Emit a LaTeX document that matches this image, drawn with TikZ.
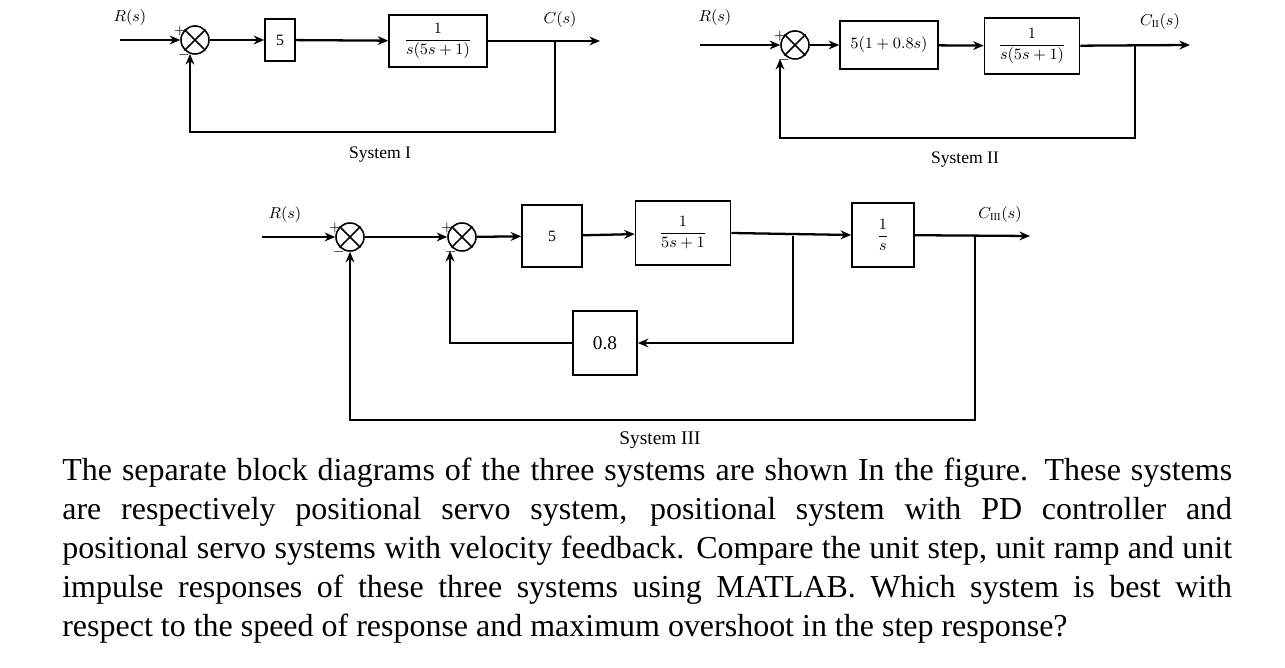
\documentclass[tikz,border=0pt]{standalone}
\usepackage{amsmath}
\usepackage{fontspec}
\setmainfont{Liberation Serif}
\usetikzlibrary{arrows.meta}
\begin{document}
\begin{tikzpicture}[x=0.02cm,y=-0.02cm,
  blk/.style={draw,line width=0.9pt,inner sep=0pt,font=\fontsize{9}{10}\selectfont},
  sumj/.style={draw,circle,line width=0.9pt,minimum size=28*0.02cm,inner sep=0pt},
  sig/.style={line width=1.3pt,-{Stealth[length=6pt,width=5pt]}},
  ln/.style={line width=1.3pt},
  lab/.style={font=\fontsize{9}{10}\selectfont}]
\useasboundingbox (0,0) rectangle (1285,668);
\fill[white] (0,0) rectangle (1285,668);
\newcommand{\sj}[2]{\node[sumj] (#1) at #2 {};
  \draw[line width=0.9pt] (#1.north west)--(#1.south east) (#1.north east)--(#1.south west);
  \node[font=\fontsize{8}{8}\selectfont,inner sep=0pt] at ([xshift=-15*0.02cm,yshift=9*0.02cm]#1.center) {$+$};
  \node[font=\fontsize{8}{8}\selectfont,inner sep=0pt] at ([xshift=-11*0.02cm,yshift=-15*0.02cm]#1.center) {$-$};}
% System I
\node[lab] (r1) at (130,18) {$R(s)$};
\coordinate (i1) at (120,40);
\sj{s1}{(195,40)}
\node[blk,minimum width=30*0.02cm,minimum height=42*0.02cm] (b11) at (280,40) {5};
\node[blk,minimum width=98*0.02cm,minimum height=52*0.02cm] (b12) at (438,41) {$\dfrac{1}{s(5s+1)}$};
\coordinate (o1) at (600,41);
\node[lab] (c1) at (560,20) {$C(s)$};
\draw[sig] (i1)--(s1);
\draw[sig] (s1)--(b11);
\draw[sig] (b11)--(b12);
\draw[sig] (b12)--(o1);
\coordinate (f1) at (555,41);
\draw[sig] (f1)|-(190,132)--(190,54);
\node[font=\fontsize{10}{11}\selectfont] (t1) at (380,155) {System I};
% System II
\node[lab] (r2) at (715,18) {$R(s)$};
\coordinate (i2) at (700,45);
\sj{s2}{(795,45)}
\node[blk,minimum width=98*0.02cm,minimum height=48*0.02cm] (b21) at (889,45) {$5(1+0.8s)$};
\node[blk,minimum width=95*0.02cm,minimum height=56*0.02cm] (b22) at (1032,46) {$\dfrac{1}{s(5s+1)}$};
\coordinate (o2) at (1190,45);
\node[lab] (c2) at (1160,22) {$C_{\mathrm{II}}(s)$};
\draw[sig] (i2)--(s2);
\draw[sig] (s2)--(b21);
\draw[sig] (b21)--(b22);
\draw[sig] (b22)--(o2);
\coordinate (f2) at (1135,45);
\draw[sig] (f2)|-(780,138)--(780,59);
\node[font=\fontsize{10}{11}\selectfont] (t2) at (965,160) {System II};
% System III
\node[lab] (r3) at (285,215) {$R(s)$};
\coordinate (i3) at (262,237);
\sj{s3}{(350,237)}
\sj{s4}{(462,237)}
\node[blk,minimum width=60*0.02cm,minimum height=62*0.02cm] (b31) at (552,236) {5};
\node[blk,minimum width=95*0.02cm,minimum height=64*0.02cm] (b32) at (683,233) {$\dfrac{1}{5s+1}$};
\node[blk,minimum width=62*0.02cm,minimum height=64*0.02cm] (b33) at (883,235) {$\dfrac{1}{s}$};
\node[blk,minimum width=64*0.02cm,minimum height=64*0.02cm,font=\fontsize{11}{12}\selectfont] (b34) at (605,343) {0.8};
\coordinate (o3) at (1030,236);
\node[lab] (c3) at (1000,215) {$C_{\mathrm{III}}(s)$};
\draw[sig] (i3)--(s3);
\draw[sig] (s3)--(s4);
\draw[sig] (s4)--(b31);
\draw[sig] (b31)--(b32);
\draw[sig] (b32.east)--(b33.west);
\draw[sig] (b33)--(o3);
\coordinate (f3) at (793,236);
\draw[sig] (f3)|-(b34.east);
\draw[sig] (b34.west)-|(450,251);
\coordinate (f4) at (975,236);
\draw[sig] (f4)|-(350,420)--(s3.south);
\node[font=\fontsize{11}{12}\selectfont] (t3) at (660,440) {System III};
% text
\node[anchor=north west,inner sep=0pt,text width=23.4cm,align=justify,
  font=\fontsize{18.2}{22.2}\selectfont] (txt) at (62,458)
{The separate block diagrams of the three systems are shown In the figure. These systems\linebreak are respectively positional servo system, positional system with PD controller and\linebreak positional servo systems with velocity feedback. Compare the unit step, unit ramp and unit\linebreak impulse responses of these three systems using MATLAB. Which system is best with\linebreak respect to the speed of response and maximum overshoot in the step response?};
\end{tikzpicture}
\end{document}
